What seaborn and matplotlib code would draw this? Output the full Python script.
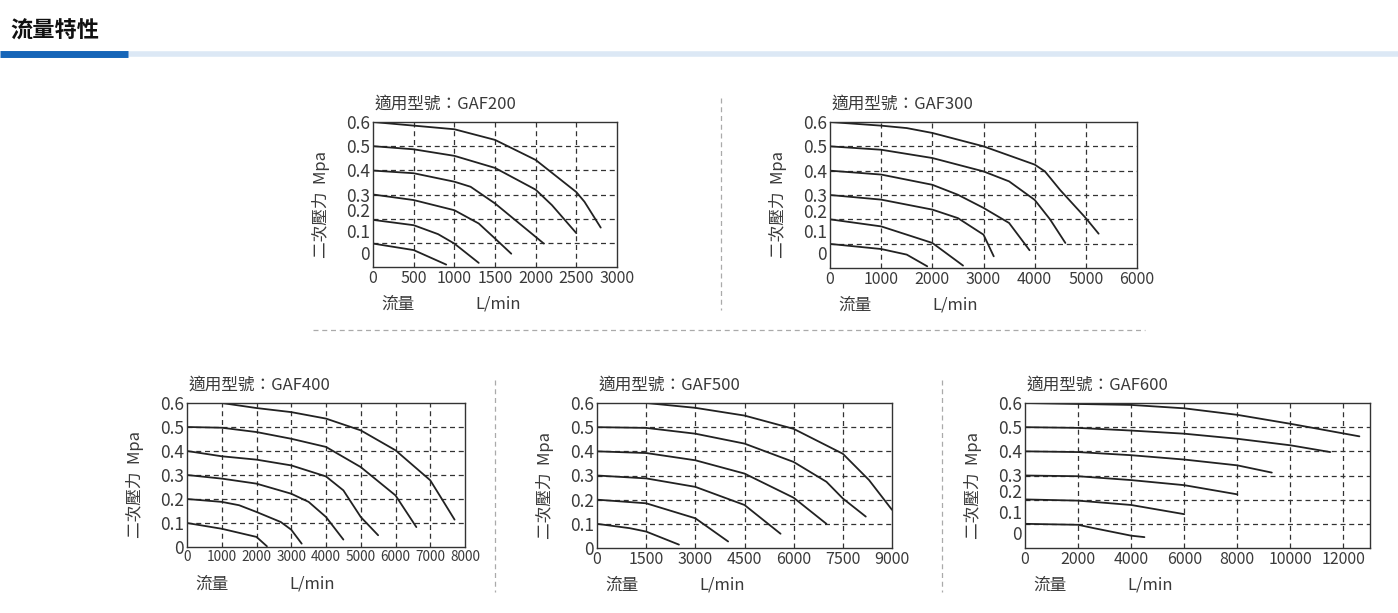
import matplotlib
matplotlib.use("Agg")
import matplotlib.pyplot as plt
import seaborn as sns
import pandas as pd

sns.set_theme(style="white")
plt.rcParams['font.family'] = ['Noto Sans CJK TC', 'DejaVu Sans']

# ---------------- data (x: L/min, y: MPa) ----------------
gaf200_x = [[0, 1000, 1500, 2000, 2500, 2600, 2800],
            [0, 500, 1000, 1500, 2000, 2200, 2500],
            [0, 500, 1000, 1200, 1500, 1800, 2100],
            [0, 500, 1000, 1300, 1500, 1700],
            [0, 500, 800, 1000, 1300],
            [0, 500, 900]]
gaf200_y = [[0.6, 0.57, 0.526, 0.443, 0.31, 0.27, 0.163],
            [0.5, 0.487, 0.46, 0.41, 0.32, 0.256, 0.14],
            [0.399, 0.388, 0.353, 0.332, 0.263, 0.18, 0.097],
            [0.3, 0.277, 0.235, 0.18, 0.118, 0.055],
            [0.195, 0.173, 0.136, 0.097, 0.017],
            [0.097, 0.07, 0.01]]

gaf300_x = [[0, 1000, 1500, 2000, 3000, 4000, 4200, 4500, 5000, 5250],
            [0, 1000, 2000, 3000, 3500, 4000, 4300, 4600],
            [0, 1000, 2000, 2500, 3000, 3500, 3900],
            [0, 1000, 2000, 2500, 3000, 3200],
            [0, 1000, 2000, 2600],
            [0, 1000, 1500, 1900]]
gaf300_y = [[0.6, 0.585, 0.575, 0.555, 0.5, 0.425, 0.397, 0.32, 0.205, 0.141],
            [0.5, 0.486, 0.452, 0.397, 0.356, 0.28, 0.2, 0.103],
            [0.4, 0.384, 0.342, 0.301, 0.247, 0.185, 0.073],
            [0.3, 0.281, 0.24, 0.205, 0.137, 0.048],
            [0.2, 0.171, 0.103, 0.01],
            [0.099, 0.078, 0.055, 0.007]]

gaf400_x = [[0, 1000, 2000, 3000, 4000, 5000, 6000, 7000, 7300, 7700],
            [0, 1000, 2000, 3000, 4000, 5000, 6000, 6600],
            [0, 1000, 2000, 3000, 4000, 4500, 5000, 5500],
            [0, 1000, 2000, 3000, 3500, 4000, 4500],
            [0, 1000, 1500, 2000, 2700, 3000, 3300],
            [0, 1000, 2000, 2300]]
gaf400_y = [[0.6, 0.6, 0.579, 0.562, 0.535, 0.486, 0.403, 0.278, 0.208, 0.114],
            [0.5, 0.497, 0.479, 0.451, 0.417, 0.333, 0.215, 0.083],
            [0.4, 0.378, 0.364, 0.34, 0.294, 0.236, 0.125, 0.049],
            [0.3, 0.285, 0.264, 0.222, 0.188, 0.125, 0.031],
            [0.2, 0.188, 0.174, 0.146, 0.104, 0.072, 0.014],
            [0.1, 0.076, 0.042, 0.003]]

gaf500_x = [[0, 1500, 3000, 4500, 6000, 7500, 8300, 9000],
            [0, 1500, 3000, 4500, 6000, 7000, 7500, 8200],
            [0, 1500, 3000, 4500, 6000, 7000],
            [0, 1500, 3000, 4500, 5600],
            [0, 1500, 3000, 4000],
            [0, 1000, 1500, 2500]]
gaf500_y = [[0.6, 0.6, 0.58, 0.548, 0.493, 0.39, 0.281, 0.158],
            [0.5, 0.497, 0.473, 0.432, 0.356, 0.274, 0.205, 0.13],
            [0.4, 0.393, 0.363, 0.308, 0.208, 0.1],
            [0.3, 0.288, 0.253, 0.178, 0.059],
            [0.2, 0.185, 0.123, 0.027],
            [0.1, 0.082, 0.068, 0.014]]

gaf600_x = [[0, 4000, 6000, 8000, 10000, 12600],
            [0, 2000, 4000, 6000, 8000, 10000, 11500],
            [0, 2000, 4000, 6000, 8000, 9300],
            [0, 2000, 4000, 6000, 8000],
            [0, 2000, 4000, 6000],
            [0, 2000, 2600, 4000, 4500]]
gaf600_y = [[0.6, 0.592, 0.578, 0.551, 0.514, 0.462],
            [0.5, 0.497, 0.486, 0.473, 0.452, 0.425, 0.397],
            [0.4, 0.397, 0.384, 0.366, 0.342, 0.312],
            [0.3, 0.297, 0.281, 0.26, 0.222],
            [0.201, 0.196, 0.178, 0.14],
            [0.1, 0.096, 0.082, 0.051, 0.045]]

ytick_labels = ["0.6", "0.5", "0.4", "0.3", "0.2", "0.1", "0"]
ytick_even = [0.6, 0.5, 0.4, 0.3, 0.2, 0.1, 0.0]
ytick_shift = [0.6, 0.5, 0.4, 0.3, 0.235, 0.15, 0.06]
grid_y = [0.1, 0.2, 0.3, 0.4, 0.5]

W, H = 1398, 613
fig = plt.figure(figsize=(W / 100, H / 100), dpi=100)

def fr(x0, y0, x1, y1):
    return [x0 / W, 1 - y1 / H, (x1 - x0) / W, (y1 - y0) / H]

charts = [
    ("GAF200", gaf200_x, gaf200_y, (373, 122, 617, 267), 3000, 500, ytick_shift, 11.5),
    ("GAF300", gaf300_x, gaf300_y, (830, 122, 1137, 268), 6000, 1000, ytick_shift, 11.5),
    ("GAF400", gaf400_x, gaf400_y, (187, 403, 465, 547), 8000, 1000, ytick_even, 9.8),
    ("GAF500", gaf500_x, gaf500_y, (597, 403, 892, 548), 9000, 1500, ytick_even, 11.5),
    ("GAF600", gaf600_x, gaf600_y, (1025, 403, 1370, 548), 13000, 2000, ytick_shift, 11.5),
]

txt = "#3a3a3a"
for name, xs, ys, box, xmax, xstep, ytk, xfs in charts:
    ax = fig.add_axes(fr(*box))
    for cx, cy in zip(xs, ys):
        df = pd.DataFrame({"x": cx, "y": cy})
        sns.lineplot(data=df, x="x", y="y", ax=ax, color="#222222", lw=1.3,
                     estimator=None, sort=False)
    ax.set_xlim(0, xmax)
    ax.set_ylim(0, 0.6)
    for g in grid_y:
        ax.axhline(g, color="#333333", lw=0.9, ls=(0, (4, 3)), zorder=0)
    xt = list(range(0, (xmax if name != "GAF600" else 12000) + 1, xstep))
    for v in xt[1:]:
        if v < xmax:
            ax.axvline(v, color="#333333", lw=0.9, ls=(0, (4, 3)), zorder=0)
    ax.set_xticks(xt)
    ax.set_xticklabels([str(v) for v in xt], fontsize=xfs, color=txt)
    ax.set_yticks(ytk)
    ax.set_yticklabels(ytick_labels, fontsize=12.5, color=txt)
    ax.tick_params(length=0, pad=2)
    ax.set_xlabel("")
    ax.set_ylabel("")
    for s in ax.spines.values():
        s.set_color("#333333")
        s.set_linewidth(1.0)
    x0, y0, x1, y1 = box
    fig.text((x0 + 2) / W, 1 - (y0 - 18) / H, f"適用型號：{name}", fontsize=12,
             color=txt, va="center", ha="left")
    fig.text((x0 - 52) / W, 1 - (y0 + y1 + 20) / 2 / H, "二次壓力  Mpa", rotation=90,
             fontsize=12, color=txt, va="center", ha="center")
    fig.text((x0 + 8) / W, 1 - (y1 + 37) / H, "流量", fontsize=12,
             color=txt, va="center", ha="left")
    fig.text((x0 + 102) / W, 1 - (y1 + 37) / H, "L/min", fontsize=12,
             color=txt, va="center", ha="left")

# header
fig.text(10 / W, 1 - 31 / H, "流量特性", fontsize=16, fontweight="bold",
         color="#111111", va="center", ha="left")
fig.add_artist(plt.Line2D([128 / W, 1], [1 - 54 / H] * 2, color="#dce8f5", lw=4))
fig.add_artist(plt.Line2D([0, 128 / W], [1 - 54 / H] * 2, color="#1565b8", lw=5,
                          solid_capstyle="butt"))

# separators
sep = dict(color="#aaaaaa", lw=0.9, ls=(0, (4, 3)))
fig.add_artist(plt.Line2D([721 / W] * 2, [1 - 98 / H, 1 - 310 / H], **sep))
fig.add_artist(plt.Line2D([313 / W, 1145 / W], [1 - 330 / H] * 2, **sep))
fig.add_artist(plt.Line2D([495 / W] * 2, [1 - 380 / H, 1 - 592 / H], **sep))
fig.add_artist(plt.Line2D([942 / W] * 2, [1 - 380 / H, 1 - 592 / H], **sep))

fig.savefig("out.png", dpi=100, facecolor="white")
